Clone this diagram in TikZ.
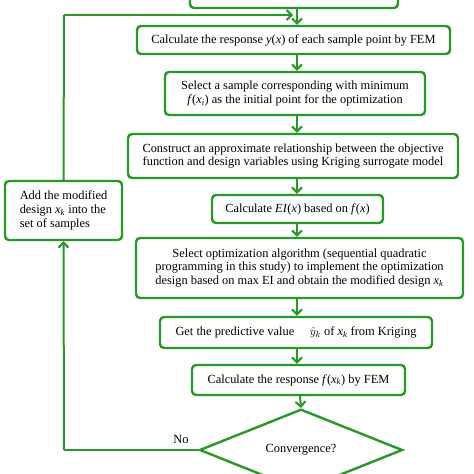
\documentclass[tikz,border=0pt]{standalone}
\usepackage{fontspec}
\setmainfont{Liberation Serif}
\usetikzlibrary{arrows.meta,shapes.geometric}
\definecolor{fgreen}{RGB}{40,152,40}
\begin{document}
\begin{tikzpicture}[x=1pt,y=-1pt,
  box/.style={draw=fgreen,line width=2.4pt,rounded corners=4pt,align=center,
    inner sep=2pt,font=\fontsize{12.4}{13.6}\selectfont,fill=white},
  dia/.style={draw=fgreen,line width=2.4pt,diamond,align=center,inner sep=0pt,
    font=\fontsize{12.4}{13.6}\selectfont},
  arr/.style={draw=fgreen,line width=2pt,-{Straight Barb[length=5pt,width=10pt,line width=2pt]}},
  ln/.style={draw=fgreen,line width=2pt}]
\useasboundingbox (0,0) rectangle (474,474);
\fill[white] (0,0) rectangle (474,474);
\node[box,minimum width=208pt,minimum height=32pt] (b1) at (294,-8) {Generate the initial sample points};
\node[box,minimum width=313pt,minimum height=28pt] (b2) at (293.5,40) {Calculate the response \textit{y}(\textit{x}) of each sample point by FEM};
\node[box,minimum width=260pt,minimum height=43pt] (b3) at (295,93.5) {Select a sample corresponding with minimum\\ \textit{f}(\textit{x}\textsubscript{\textit{i}}) as the initial point for the optimization};
\node[box,minimum width=330pt,minimum height=44pt] (b4) at (293,156) {Construct an approximate relationship between the objective\\ function and design variables using Kriging surrogate model};
\node[box,minimum width=171pt,minimum height=28pt] (b5) at (297.5,209) {Calculate \textit{EI}(\textit{x}) based on \textit{f}(\textit{x})};
\node[box,minimum width=327pt,minimum height=60pt] (b6) at (299.5,268) {Select optimization algorithm (sequential quadratic\\ programming in this study) to implement the optimization\\ design based on max EI and obtain the modified design \textit{x}\textsubscript{\textit{k}}};
\node[box,minimum width=272pt,minimum height=31pt] (b7) at (296,332.5) {Get the predictive value \quad$\hat{y}_k$ of \textit{x}\textsubscript{\textit{k}} from Kriging};
\node[box,minimum width=213pt,minimum height=30pt] (b8) at (298.5,380) {Calculate the response \textit{f}(\textit{x}\textsubscript{\textit{k}}) by FEM};
\node[dia,minimum width=203pt,minimum height=66pt] (d) at (301,450) {Convergence?};
\node[box,minimum width=117pt,minimum height=59pt,align=left] (bl) at (63.5,210.5) {Add the modified\\ design \textit{x}\textsubscript{\textit{k}} into the\\ set of samples};
\coordinate (tl) at (64,15);
\coordinate (tr) at (293,15);
\coordinate (bll) at (64,450);
\draw[arr] (b1.south -| 297,0) -- (297,0 |- b2.north);
\draw[arr] (b2.south -| 297,0) -- (297,0 |- b3.north);
\draw[arr] (b3.south -| 297,0) -- (297,0 |- b4.north);
\draw[arr] (b4.south -| 297,0) -- (297,0 |- b5.north);
\draw[arr] (b5.south -| 297,0) -- (297,0 |- b6.north);
\draw[arr] (b6.south -| 297,0) -- (297,0 |- b7.north);
\draw[arr] (b7.south -| 297,0) -- (297,0 |- b8.north);
\draw[arr] (b8.south -| 300,0) -- (d.north);
\draw[ln] (d.west) -- (bll);
\draw[arr] (bll) -- (bl.south);
\draw[ln] (bl.north) -- (tl);
\draw[arr] (tl) -- (tr);
\node[font=\fontsize{12.4}{13.6}\selectfont] (no) at (181,439) {No};
\end{tikzpicture}
\end{document}
